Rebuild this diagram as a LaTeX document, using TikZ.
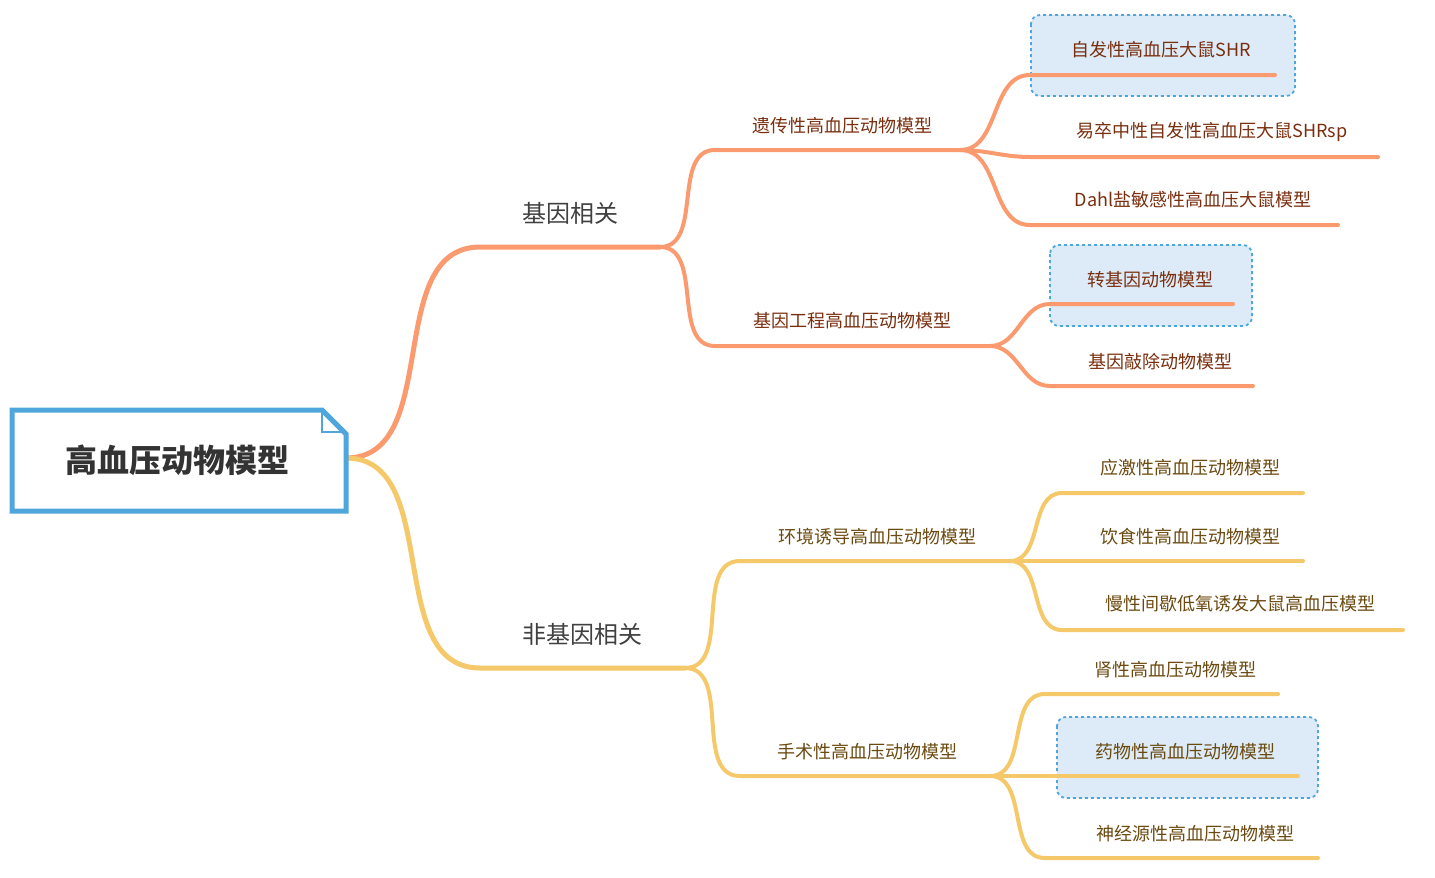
\documentclass[tikz,border=0pt]{standalone}
\usepackage{fontspec}
\setmainfont{Noto Sans CJK SC}
\definecolor{orn}{HTML}{FA9A6E}
\definecolor{yel}{HTML}{F5C96A}
\definecolor{blu}{HTML}{4EA6DC}
\definecolor{lbl}{HTML}{DCEBF7}
\definecolor{otx}{HTML}{7A2E0E}
\definecolor{ytx}{HTML}{6B4A10}
\begin{document}
\begin{tikzpicture}[x=1pt,y=-1pt,
  ob/.style={draw=orn,line width=4pt,line cap=round},
  yb/.style={draw=yel,line width=4pt,line cap=round},
  obm/.style={ob,line width=5pt},
  ybm/.style={yb,line width=5pt},
  s/.style={out=0,in=180},
  hl/.style={draw=blu,dashed,line width=1.8pt,fill=lbl,rounded corners=9pt},
  lo/.style={text=otx,font=\fontsize{18}{20}\selectfont},
  ly/.style={text=ytx,font=\fontsize{18}{20}\selectfont},
  lm/.style={text=black!75,font=\fontsize{24}{26}\selectfont}]
\useasboundingbox (0,0) rectangle (1435,878);
% highlight boxes
\path[hl] (1031,15) rectangle (1295,96);
\path[hl] (1050,245) rectangle (1252,326);
\path[hl] (1057,717) rectangle (1318,798);
% root
\coordinate (r) at (346,458);
\coordinate (a1) at (480,247); \coordinate (a2) at (660,247);
\coordinate (b1) at (480,668); \coordinate (b2) at (685,668);
\coordinate (c1) at (715,150); \coordinate (c2) at (960,150);
\coordinate (d1) at (715,346); \coordinate (d2) at (990,346);
\coordinate (e1) at (740,561); \coordinate (e2) at (1010,561);
\coordinate (f1) at (740,776); \coordinate (f2) at (990,776);
\draw[obm] (r) to[s] (a1) -- (a2);
\draw[ybm] (r) to[s] (b1) -- (b2);
\draw[ob] (a2) to[s] (c1) -- (c2);
\draw[ob] (a2) to[s] (d1) -- (d2);
\draw[yb] (b2) to[s] (e1) -- (e2);
\draw[yb] (b2) to[s] (f1) -- (f2);
\draw[ob] (c2) to[s] (1030,75) coordinate (g1) -- (1275,75) coordinate (g2);
\draw[ob] (c2) to[s] (1030,157) coordinate (h1) -- (1378,157) coordinate (h2);
\draw[ob] (c2) to[s] (1030,225) coordinate (i1) -- (1338,225) coordinate (i2);
\draw[ob] (d2) to[s] (1050,304) coordinate (j1) -- (1233,304) coordinate (j2);
\draw[ob] (d2) to[s] (1050,386) coordinate (k1) -- (1253,386) coordinate (k2);
\draw[yb] (e2) to[s] (1062,493) coordinate (l1) -- (1303,493) coordinate (l2);
\draw[yb] (e2) to[s] (1062,561) coordinate (m1) -- (1303,561) coordinate (m2);
\draw[yb] (e2) to[s] (1062,630) coordinate (n1) -- (1403,630) coordinate (n2);
\draw[yb] (f2) to[s] (1045,694) coordinate (o1) -- (1278,694) coordinate (o2);
\draw[yb] (f2) to[s] (1045,776) coordinate (p1) -- (1298,776) coordinate (p2);
\draw[yb] (f2) to[s] (1045,858) coordinate (q1) -- (1318,858) coordinate (q2);
% root box
\draw[blu,line width=5pt,fill=white] (12,410) -- (322,410) -- (346,434) -- (346,511) -- (12,511) -- cycle;
\draw[blu,line width=2.5pt] (322,412) -- (322,432) -- (344,432);
\node[text=black!80,font=\fontsize{32}{34}\selectfont\bfseries] (root) at (177,460) {高血压动物模型};
% labels
\node[lm] (la) at (570,213) {基因相关};
\node[lm] (lb) at (582,634) {非基因相关};
\node[lo] (lc) at (842,126) {遗传性高血压动物模型};
\node[lo] (ld) at (852,321) {基因工程高血压动物模型};
\node[ly] (le) at (877,537) {环境诱导高血压动物模型};
\node[ly] (lf) at (867,752) {手术性高血压动物模型};
\node[lo] (lg) at (1161,50) {自发性高血压大鼠SHR};
\node[lo] (lh) at (1212,132) {易卒中性自发性高血压大鼠SHRsp};
\node[lo] (li) at (1193,200) {Dahl盐敏感性高血压大鼠模型};
\node[lo] (lj) at (1150,280) {转基因动物模型};
\node[lo] (lk) at (1160,362) {基因敲除动物模型};
\node[ly] (ll) at (1190,468) {应激性高血压动物模型};
\node[ly] (lm) at (1190,537) {饮食性高血压动物模型};
\node[ly] (ln) at (1240,604) {慢性间歇低氧诱发大鼠高血压模型};
\node[ly] (lo) at (1175,670) {肾性高血压动物模型};
\node[ly] (lp) at (1185,752) {药物性高血压动物模型};
\node[ly] (lq) at (1195,834) {神经源性高血压动物模型};
\end{tikzpicture}
\end{document}
